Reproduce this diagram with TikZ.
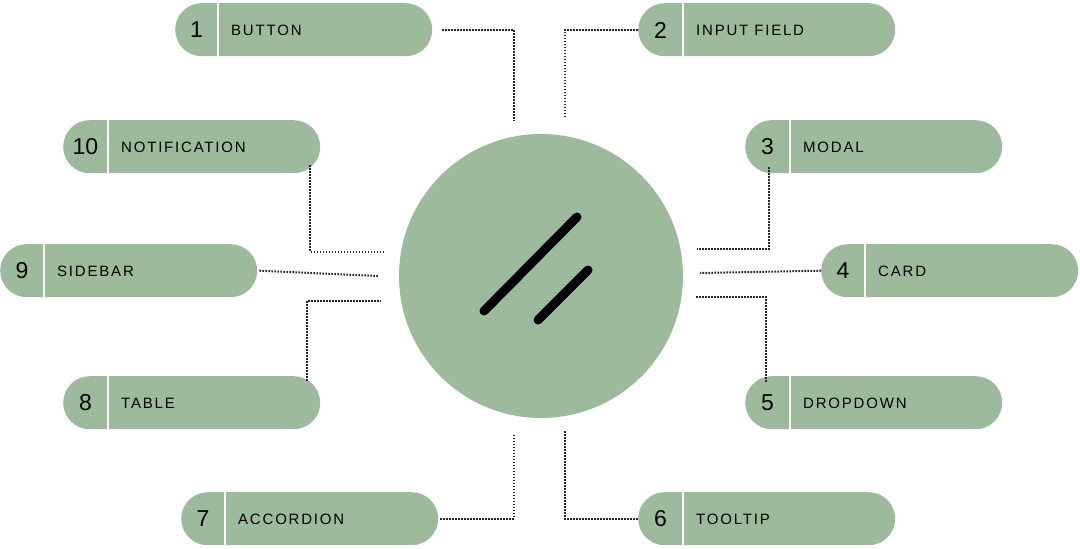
\documentclass[tikz,border=0pt]{standalone}
\usepackage{fontspec}
\setmainfont{Liberation Sans}
\newfontfamily\lblfont[LetterSpace=12]{Liberation Sans}
\begin{document}
\begin{tikzpicture}[x=1pt,y=-1pt,
  pillbox/.style={fill=pill,rounded corners=26.5pt,minimum width=257pt,minimum height=53pt,inner sep=0,anchor=north west},
  numtxt/.style={font=\fontsize{23}{23}\selectfont,inner sep=0},
  lbltxt/.style={font=\lblfont\fontsize{15}{15}\selectfont,inner sep=0,anchor=west},
  conn/.style={line width=2pt,dash pattern=on 1.6pt off 1.4pt,draw=black!85}]
\definecolor{pill}{HTML}{9DBA9C}
\useasboundingbox (0,0) rectangle (1080,549);
\node[circle,fill=pill,minimum size=284pt,inner sep=0] (hub) at (541,276) {};
\draw[line width=9pt,line cap=round] (484,311) -- (577,217);
\draw[line width=9pt,line cap=round] (538,320) -- (588,270);
% pill(name, left, top, separator x, number, label)
\newcommand{\mypill}[6]{%
  \node[pillbox] (#1) at (#2,#3) {};
  \draw[white,line width=2pt] (#4,#3) -- (#4,#3+53);
  \node[numtxt] (#1n) at ({(#2+#4)/2},#3+27) {#5};
  \node[lbltxt] (#1l) at (#4+13,#3+27) {#6};}
\mypill{p1}{175}{3}{218}{1}{BUTTON}
\mypill{p2}{638}{3}{683}{2}{INPUT FIELD}
\mypill{p10}{63}{120}{108}{10}{NOTIFICATION}
\mypill{p3}{745}{120}{790}{3}{MODAL}
\mypill{p9}{0}{244}{44}{9}{SIDEBAR}
\mypill{p4}{821}{244}{865}{4}{CARD}
\mypill{p8}{63}{376}{108}{8}{TABLE}
\mypill{p5}{745}{376}{790}{5}{DROPDOWN}
\mypill{p7}{181}{492}{225}{7}{ACCORDION}
\mypill{p6}{638}{492}{683}{6}{TOOLTIP}
\coordinate (c1) at (514,121); \coordinate (c2) at (565,117);
\coordinate (c10) at (383,252); \coordinate (c9) at (378,276);
\coordinate (c8) at (381,301); \coordinate (c3) at (697,249);
\coordinate (c4) at (700,273); \coordinate (c5) at (696,297);
\coordinate (c7) at (514,434); \coordinate (c6) at (565,430);
\draw[conn] ([xshift=10pt]p1.east) -| (c1);
\draw[conn] (p2.west) -| (c2);
\draw[conn] ([xshift=-10pt,yshift=8pt]p10.south east) |- (c10);
\draw[conn] ([xshift=2pt]p9.east) -- (c9);
\draw[conn] ([xshift=-13pt,yshift=-5pt]p8.north east) |- (c8);
\draw[conn] ([xshift=24pt,yshift=6pt]p3.south west) |- (c3);
\draw[conn] (p4.west) -- (c4);
\draw[conn] ([xshift=21pt,yshift=-6pt]p5.north west) |- (c5);
\draw[conn] ([xshift=2pt]p7.east) -| (c7);
\draw[conn] (p6.west) -| (c6);
\end{tikzpicture}
\end{document}
